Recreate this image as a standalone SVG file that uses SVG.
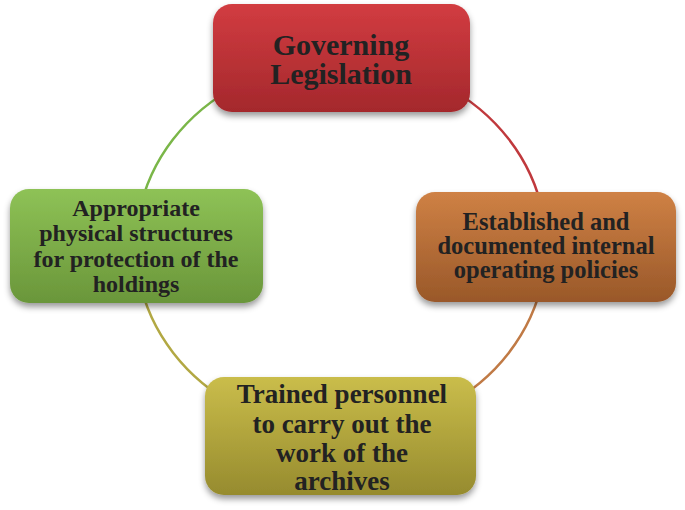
<svg xmlns="http://www.w3.org/2000/svg" width="685" height="510" viewBox="0 0 685 510">
<defs>
<style>
.t{font-family:"Liberation Serif","Times New Roman",serif;font-weight:bold;fill:#222;text-anchor:middle}
.c{fill:none;stroke-width:2.5}
</style>
<filter id="sh" x="-10%" y="-10%" width="120%" height="130%">
<feDropShadow dx="0" dy="4" stdDeviation="3" flood-color="#000" flood-opacity="0.4"/>
</filter>
<linearGradient id="gr" x1="0" y1="0" x2="0" y2="1"><stop offset="0" stop-color="#d23c41"/><stop offset="1" stop-color="#a4282c"/></linearGradient>
<linearGradient id="go" x1="0" y1="0" x2="0" y2="1"><stop offset="0" stop-color="#cf8145"/><stop offset="1" stop-color="#995829"/></linearGradient>
<linearGradient id="gg" x1="0" y1="0" x2="0" y2="1"><stop offset="0" stop-color="#8ec256"/><stop offset="1" stop-color="#6a963a"/></linearGradient>
<linearGradient id="gy" x1="0" y1="0" x2="0" y2="1"><stop offset="0" stop-color="#cabd4b"/><stop offset="1" stop-color="#968b2e"/></linearGradient>
</defs>
<g id="connectors">
<path class="c" stroke="#7ab648" d="M 238.5 85 A 205 186 0 0 0 139.1 213.7"/>
<path class="c" stroke="#c0393d" d="M 443.5 85 A 205 186 0 0 1 542.9 213.7"/>
<path class="c" stroke="#c07a45" d="M 542.9 278.3 A 205 186 0 0 1 443.5 407"/>
<path class="c" stroke="#b2a843" d="M 139.1 278.3 A 205 186 0 0 0 238.5 407"/>
</g>
<g id="node-top">
<rect x="213" y="4" width="257" height="108" rx="19" fill="url(#gr)" filter="url(#sh)"/>
<text class="t" x="341" y="55" font-size="30">Governing</text>
<text class="t" x="341" y="84" font-size="30">Legislation</text>
</g>
<g id="node-right">
<rect x="416" y="192" width="260" height="110" rx="19" fill="url(#go)" filter="url(#sh)"/>
<text class="t" x="546" y="230" font-size="24.5">Established and</text>
<text class="t" x="546" y="254" font-size="24.5">documented internal</text>
<text class="t" x="546" y="278" font-size="24.5">operating policies</text>
</g>
<g id="node-left">
<rect x="10" y="189" width="253" height="114" rx="19" fill="url(#gg)" filter="url(#sh)"/>
<text class="t" x="136" y="216" font-size="24">Appropriate</text>
<text class="t" x="136" y="241" font-size="24">physical structures</text>
<text class="t" x="136" y="267" font-size="24">for protection of the</text>
<text class="t" x="136" y="292" font-size="24">holdings</text>
</g>
<g id="node-bottom">
<rect x="205" y="377" width="271" height="118" rx="19" fill="url(#gy)" filter="url(#sh)"/>
<text class="t" x="342" y="403" font-size="27">Trained personnel</text>
<text class="t" x="342" y="433" font-size="27">to carry out the</text>
<text class="t" x="342" y="462" font-size="27">work of the</text>
<text class="t" x="342" y="490" font-size="27">archives</text>
</g>
</svg>
